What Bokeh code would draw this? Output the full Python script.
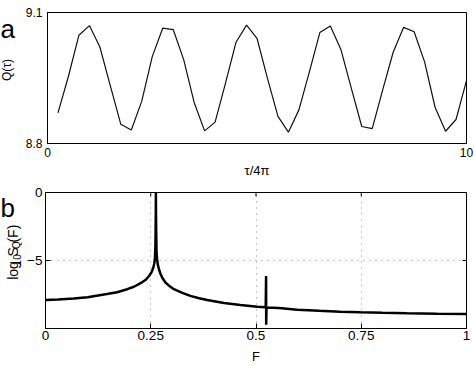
import numpy as np
from bokeh.plotting import figure
from bokeh.models import FixedTicker, Range1d
from bokeh.core.properties import value
from bokeh.layouts import column, row
from bokeh.embed import file_html
from bokeh.resources import INLINE

# ---------- panel a data ----------
tau = [0.25 * k for k in range(1, 41)]
q_vals = [8.870, 8.954, 9.048, 9.070, 9.021, 8.932, 8.844, 8.831, 8.897, 8.999,
          9.064, 9.061, 8.992, 8.894, 8.829, 8.849, 8.939, 9.032, 9.071, 9.041,
          8.949, 8.862, 8.826, 8.877, 8.964, 9.054, 9.069, 9.016, 8.927, 8.839,
          8.834, 8.923, 9.009, 9.066, 9.056, 8.987, 8.883, 8.828, 8.855, 8.944]
a_xticks = [0, 10]
a_yticks = [8.8, 9.1]

# ---------- panel b data ----------
freq = [0.0, 0.03, 0.067, 0.10, 0.146, 0.17, 0.194, 0.21, 0.226, 0.238,
        0.246, 0.252, 0.256, 0.2585, 0.260, 0.261, 0.2615, 0.262, 0.2622,
        0.2625, 0.263, 0.2637, 0.265, 0.2668, 0.270, 0.273, 0.278, 0.285,
        0.295, 0.305, 0.325, 0.344, 0.365, 0.384, 0.424, 0.463, 0.503, 0.523,
        0.524, 0.5242, 0.525, 0.554, 0.598, 0.65, 0.70, 0.748, 0.80, 0.859,
        0.93, 1.0]
log_s = [-7.91, -7.87, -7.79, -7.70, -7.47, -7.33, -7.11, -6.93, -6.67, -6.42,
         -6.14, -5.85, -5.53, -5.20, -4.80, -4.00, -3.00, -1.50, 0.0,
         -1.50, -3.00, -4.30, -4.90, -5.30, -5.70, -5.97, -6.30, -6.62,
         -6.90, -7.11, -7.38, -7.60, -7.78, -7.91, -8.13, -8.28, -8.40, -8.44,
         -6.14, -9.73, -8.45, -8.49, -8.62, -8.70, -8.76, -8.81, -8.85, -8.88,
         -8.91, -8.93]
b_xticks = [0, 0.25, 0.5, 0.75, 1]
b_xlabels = {0: "0", 0.25: "0.25", 0.5: "0.5", 0.75: "0.75", 1: "1"}
b_yticks = [-5, 0]

FONT = "Liberation Sans"
W = 474
SIDE = 22                 # width of the strip holding panel letters / y-labels
LEFT, RIGHT = 45, 8       # page x of frame left edge, right margin
FRAME_W = W - LEFT - RIGHT


def style(p, xticks, yticks, tick_size, xstand, ystand):
    p.xaxis.ticker = FixedTicker(ticks=xticks)
    p.yaxis.ticker = FixedTicker(ticks=yticks)
    for ax in (p.xaxis[0], p.yaxis[0]):
        ax.major_tick_in = 5
        ax.major_tick_out = 0
        ax.minor_tick_line_color = None
        ax.axis_line_color = "black"
        ax.major_tick_line_color = "black"
        ax.major_label_text_font = FONT
        ax.major_label_text_font_size = tick_size
        ax.major_label_text_color = "black"
        ax.axis_label_text_font = FONT
        ax.axis_label_text_font_style = "normal"
        ax.axis_label_text_color = "black"
    p.xaxis.major_label_standoff = xstand
    p.yaxis.major_label_standoff = ystand
    p.outline_line_color = "black"
    p.outline_line_alpha = 1
    p.background_fill_color = "white"
    p.border_fill_color = "white"


def side_strip(h):
    s = figure(width=SIDE, height=h, x_range=Range1d(0, SIDE), y_range=Range1d(0, h),
               x_axis_type=None, y_axis_type=None, output_backend="svg",
               toolbar_location=None, min_border=0)
    s.min_border_left = s.min_border_right = s.min_border_top = s.min_border_bottom = 0
    s.outline_line_color = None
    s.grid.visible = False
    s.background_fill_color = "white"
    s.border_fill_color = "white"
    return s


# ---------- figure a ----------
A_TOP, A_FH, A_BOT = 12, 137, 31
A_H = A_TOP + A_FH + A_BOT
p1 = figure(width=W - SIDE, height=A_H, x_range=Range1d(0, 10),
            y_range=Range1d(8.8, 9.1),
            output_backend="svg", toolbar_location=None,
            min_border_left=LEFT - SIDE, min_border_right=RIGHT,
            min_border_top=A_TOP, min_border_bottom=A_BOT)
style(p1, a_xticks, a_yticks, "12px", 4, 5)
p1.grid.visible = False
p1.xaxis.axis_label = "τ/4π"
p1.xaxis.axis_label_text_font_size = "13px"
p1.xaxis.axis_label_standoff = 3
p1.line(tau, q_vals, line_color="#111111", line_width=1.2)

s1 = side_strip(A_H)
s1.text(x=[0], y=[A_H - 22], text=["a"], text_align="left", text_baseline="alphabetic",
        text_font=value(FONT), text_font_size=value("26px"), text_color="black")
s1.text(x=[6.5], y=[A_H - 79], text=["Q(τ)"], angle=np.pi / 2,
        text_align="center", text_baseline="middle",
        text_font=value(FONT), text_font_size=value("12px"), text_color="black")

# ---------- figure b ----------
B_TOP, B_FH, B_BOT = 12, 138, 36
B_H = B_TOP + B_FH + B_BOT
p2 = figure(width=W - SIDE, height=B_H, x_range=Range1d(0, 1), y_range=Range1d(-10, 0),
            output_backend="svg", toolbar_location=None,
            min_border_left=LEFT - SIDE, min_border_right=RIGHT,
            min_border_top=B_TOP, min_border_bottom=B_BOT)
style(p2, b_xticks, b_yticks, "13.5px", 2, 3)
p2.xaxis.major_label_overrides = b_xlabels
p2.yaxis.major_label_overrides = {-5: "\u22125", 0: "0"}
p2.xaxis.axis_label = "F"
p2.xaxis.axis_label_text_font_size = "13px"
p2.xaxis.axis_label_standoff = 6
for g in (p2.xgrid[0], p2.ygrid[0]):
    g.grid_line_color = "#8a8a8a"
    g.grid_line_dash = "1 5"
    g.grid_line_width = 1
p2.xgrid.ticker = FixedTicker(ticks=b_xticks)
p2.ygrid.ticker = FixedTicker(ticks=b_yticks)

# mirrored inward tick marks on top and right edges (4 px long)
tl_y = 4 * 10 / B_FH
tl_x = 4 * 1 / FRAME_W
p2.segment(x0=b_xticks, y0=[0] * len(b_xticks), x1=b_xticks, y1=[-tl_y] * len(b_xticks),
           line_color="black", line_width=1)
p2.segment(x0=[1] * len(b_yticks), y0=b_yticks, x1=[1 - tl_x] * len(b_yticks), y1=b_yticks,
           line_color="black", line_width=1)

p2.line(freq, log_s, line_color="black", line_width=2.5)

s2 = side_strip(B_H)
s2.text(x=[0], y=[B_H - 21.5], text=["b"], text_align="left", text_baseline="alphabetic",
        text_font=value(FONT), text_font_size=value("26px"), text_color="black")

# composite rotated label: log10 S_Q(F)
MAIN, SUB, GAP = 14, 10, 1.0
parts = [("log", MAIN, 0, 1.334), ("10", SUB, 4, 1.112), ("S", MAIN, 0, 0.667),
         ("Q", SUB, 4, 0.778), ("(F)", MAIN, 0, 1.277)]
total = sum(sz * w for _, sz, _, w in parts) + GAP * (len(parts) - 1)
ly = 85 + total / 2     # local page y of label start (bottom end)
for txt, sz, shift, w in parts:
    s2.text(x=[12 + shift], y=[B_H - ly], text=[txt], angle=np.pi / 2,
            text_align="left", text_baseline="alphabetic",
            text_font=value(FONT), text_font_size=value(f"{sz}px"), text_color="black")
    ly -= sz * w + GAP

layout = column(row(s1, p1, spacing=0), row(s2, p2, spacing=0), spacing=0)
open("out.html", "w").write(file_html(layout, INLINE))
